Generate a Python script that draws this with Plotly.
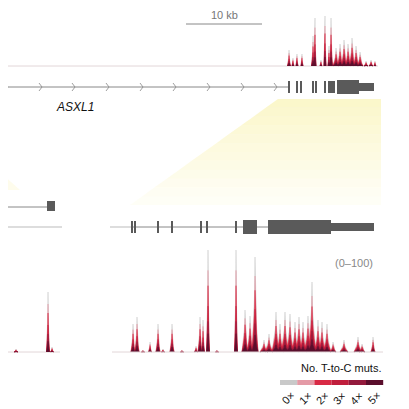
import plotly.graph_objects as go

# ASXL1 T-to-C coverage sketch, drawn on a pixel-like canvas (0-409, y down)

# top track peaks: position, height (0x coverage), half width
top_pos = [289, 293, 297, 302, 313, 315, 321, 325, 329, 331, 336, 340, 344, 348, 352, 356, 360, 366, 371, 375]
top_h = [16, 8, 12, 12, 30, 48, 6, 50, 20, 48, 18, 22, 26, 22, 28, 20, 14, 5, 6, 5]
top_w = [1.5, 1, 1, 1, 1.5, 1, 1, 1, 1, 1.5, 3, 3, 3, 3, 3, 3, 3, 2, 2, 1]

# bottom track peaks
bot_pos = [16, 48, 52, 133, 137, 143, 150, 158, 163, 172, 182, 196, 200, 203, 208, 217, 236, 245, 250, 255,
           264, 269, 276, 280, 285, 290, 295, 299, 303, 308, 312, 318, 322, 327, 333, 344, 358, 362, 373]
bot_h = [3, 60, 5, 28, 35, 2, 10, 28, 3, 28, 2, 6, 35, 32, 102, 2, 102, 42, 36, 95,
         12, 18, 40, 28, 40, 38, 30, 35, 30, 36, 70, 32, 30, 28, 10, 12, 15, 8, 15]
bot_w = [2, 1.5, 1.5, 2, 2, 1.5, 1.5, 2, 1.5, 2, 1.5, 1.5, 2, 1.5, 1.5, 1.5, 1.5, 3, 3, 3,
         4, 4, 4, 4, 4, 4, 4, 4, 4, 4, 4, 4, 4, 4, 3, 4, 4, 3, 2]

# share of coverage kept by each mutation class layer
layer_frac = [1.0, 0.8, 0.65, 0.45, 0.3, 0.18]
layer_cols = ["#c9c9c9", "#e49aa6", "#d82a45", "#c01e3c", "#931a3c", "#5a0e2c"]
legend_labels = ["0×", "1×", "2×", "3×", "4×", "5×"]

# gene model exons (x0, x1, half height)
top_exons = [(288, 290, 6), (296, 298, 6), (300, 302, 6), (312, 314, 6), (315, 317, 6), (324, 326, 6),
             (328, 330, 6), (330, 335, 6), (337, 359, 7), (359, 374, 4)]
mid_exons = [(131, 133, 6), (134, 136, 6), (157, 159, 6), (171, 173, 6), (200, 202, 6), (206, 208, 6),
             (235, 237, 6), (243, 257, 7), (268, 331, 7), (331, 374, 4)]
chevrons = [7, 41, 74, 108, 142, 175, 209, 243, 276]

fig = go.Figure()


def add_track(pos, hts, wid, base, x0, x1):
    fig.add_trace(go.Scatter(x=[x0, x1], y=[base, base], mode="lines",
                             line=dict(color="#e2d6d8", width=1), hoverinfo="skip"))
    for frac, col in zip(layer_frac, layer_cols):
        xs, ys = [], []
        for p, h, w in zip(pos, hts, wid):
            hh = h * frac
            xs += [p - w, p - w * 0.5, p - w * 0.15, p, p + w * 0.15, p + w * 0.5, p + w, None]
            ys += [base, base - hh * 0.3, base - hh * 0.6, base - hh,
                   base - hh * 0.6, base - hh * 0.3, base, None]
        fig.add_trace(go.Scatter(x=xs, y=ys, mode="lines", fill="toself", fillcolor=col,
                                 line=dict(color=col, width=0.5), hoverinfo="skip"))


# yellow zoom trapezoid, fading downward
steps = 12
for i in range(steps):
    y0 = 99 + i * 106 / steps
    y1 = 99 + (i + 1) * 106 / steps
    xl0 = 278 - (278 - 130) * (i / steps)
    xl1 = 278 - (278 - 130) * ((i + 1) / steps)
    op = 0.5 * (1 - i / steps) + 0.05
    fig.add_trace(go.Scatter(x=[xl0, 381, 381, xl1, xl0], y=[y0, y0, y1, y1, y0], mode="lines",
                             fill="toself", fillcolor="rgba(248,240,160,%.2f)" % op,
                             line=dict(width=0), hoverinfo="skip"))
fig.add_trace(go.Scatter(x=[0, 20, 0, 0], y=[172, 190, 190, 172], fill="toself",
                         fillcolor="rgba(248,240,160,0.2)", line=dict(width=0), mode="lines"))

add_track(top_pos, top_h, top_w, 66, 0, 378)
add_track(bot_pos, bot_h, bot_w, 352, 0, 60)
add_track([], [], [], 352, 112, 383)

# gene lines
for x0, x1, y, c in [(0, 288, 87, "#888"), (0, 48, 207, "#888"), (0, 62, 227, "#bbb"),
                     (110, 131, 227, "#bbb"), (131, 374, 227, "#888")]:
    fig.add_shape(type="line", x0=x0, x1=x1, y0=y, y1=y, line=dict(color=c, width=1))
for c in chevrons:
    fig.add_shape(type="path", path=f"M {c-2} 83 L {c+1} 87 L {c-2} 91", line=dict(color="#888", width=0.8))
for x0, x1, hh in top_exons:
    fig.add_shape(type="rect", x0=x0, x1=x1, y0=87 - hh, y1=87 + hh, fillcolor="#5a5a5a", line_width=0)
for x0, x1, hh in mid_exons:
    fig.add_shape(type="rect", x0=x0, x1=x1, y0=227 - hh, y1=227 + hh, fillcolor="#5a5a5a", line_width=0)
fig.add_shape(type="rect", x0=47, x1=55, y0=201, y1=211, fillcolor="#5a5a5a", line_width=0)

# scale bar
fig.add_shape(type="line", x0=186, x1=262, y0=24, y1=24, line=dict(color="#888", width=1))

# colour legend
for i, col in enumerate(layer_cols):
    fig.add_shape(type="rect", x0=280 + i * 17.2, x1=280 + (i + 1) * 17.2, y0=380, y1=385,
                  fillcolor=col, line_width=0)
    fig.add_annotation(x=288 + i * 17.2, y=398, text=legend_labels[i], textangle=-45, showarrow=False,
                       font=dict(size=11, color="#111"))

fig.add_annotation(x=224, y=15, text="10 kb", showarrow=False, font=dict(size=11, color="#777"))
fig.add_annotation(x=75, y=107, text="<i>ASXL1</i>", showarrow=False, font=dict(size=12, color="#111"))
fig.add_annotation(x=375, y=263, text="(0–100)", showarrow=False, xanchor="right",
                   font=dict(size=11, color="#888"))
fig.add_annotation(x=383, y=368, text="No. T-to-C muts.", showarrow=False, xanchor="right",
                   font=dict(size=11, color="#111"))

# page has an 8px body margin, so the canvas is offset by 8 to line up with the window
fig.update_layout(width=409, height=409, margin=dict(l=0, r=0, t=0, b=0), showlegend=False,
                  plot_bgcolor="white", paper_bgcolor="white",
                  font=dict(family="Liberation Sans, Arial"))
fig.update_xaxes(range=[8, 417], visible=False)
fig.update_yaxes(range=[417, 8], visible=False)
fig.write_html("out.html")
